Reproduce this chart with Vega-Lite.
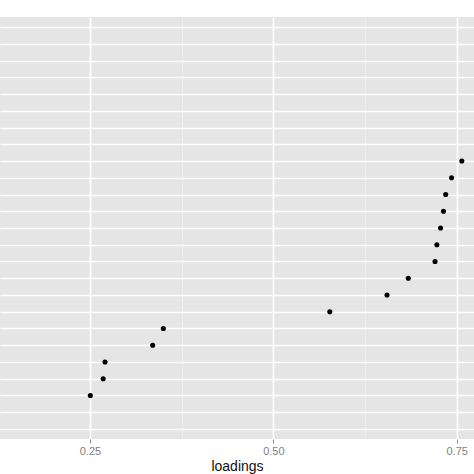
{
  "$schema": "https://vega.github.io/schema/vega-lite/v6.json",
  "width": 474,
  "height": 422,
  "autosize": "none",
  "padding": {"left": 0, "top": 17, "right": 0, "bottom": 35},
  "background": "white",
  "data": {
    "values": [
      {"item": "item09", "loadings": 0.757},
      {"item": "item10", "loadings": 0.743},
      {"item": "item11", "loadings": 0.735},
      {"item": "item12", "loadings": 0.732},
      {"item": "item13", "loadings": 0.728},
      {"item": "item14", "loadings": 0.723},
      {"item": "item15", "loadings": 0.7205},
      {"item": "item16", "loadings": 0.684},
      {"item": "item17", "loadings": 0.655},
      {"item": "item18", "loadings": 0.577},
      {"item": "item19", "loadings": 0.35},
      {"item": "item20", "loadings": 0.3355},
      {"item": "item21", "loadings": 0.2705},
      {"item": "item22", "loadings": 0.268},
      {"item": "item23", "loadings": 0.2505}
    ]
  },
  "encoding": {
    "y": {
      "field": "item",
      "type": "ordinal",
      "sort": null,
      "scale": {
        "type": "point",
        "padding": 0.6,
        "domain": [
          "item01", "item02", "item03", "item04", "item05",
          "item06", "item07", "item08", "item09", "item10",
          "item11", "item12", "item13", "item14", "item15",
          "item16", "item17", "item18", "item19", "item20",
          "item21", "item22", "item23", "item24", "item25"
        ]
      },
      "axis": {
        "grid": true,
        "gridColor": "white",
        "gridWidth": 1.4,
        "labels": false,
        "ticks": false,
        "domain": false,
        "title": null
      }
    }
  },
  "layer": [
    {
      "mark": {"type": "point", "opacity": 0},
      "encoding": {
        "x": {
          "field": "loadings",
          "type": "quantitative",
          "scale": {"domain": [0.1273, 0.7736], "nice": false, "zero": false},
          "axis": {
            "orient": "top",
            "values": [0.375, 0.625],
            "grid": true,
            "gridColor": "#f4f4f4",
            "gridWidth": 0.7,
            "labels": false,
            "ticks": false,
            "domain": false,
            "title": null
          }
        }
      }
    },
    {
      "mark": {"type": "point", "filled": true, "color": "black", "opacity": 1, "size": 26},
      "encoding": {
        "x": {
          "field": "loadings",
          "type": "quantitative",
          "title": "loadings",
          "scale": {"domain": [0.1273, 0.7736], "nice": false, "zero": false},
          "axis": {
            "orient": "bottom",
            "values": [0.25, 0.5, 0.75],
            "format": ".2f",
            "grid": true,
            "gridColor": "white",
            "gridWidth": 1.6,
            "domain": false,
            "tickColor": "#8a8a8a",
            "tickSize": 4,
            "labelColor": "#7f7f7f",
            "labelFontSize": 11,
            "labelPadding": 2,
            "titleFontSize": 14,
            "titleFontWeight": "normal",
            "titleColor": "#111111",
            "titlePadding": 3
          }
        }
      }
    }
  ],
  "resolve": {"axis": {"x": "independent"}},
  "config": {
    "font": "Liberation Sans",
    "view": {"fill": "#e5e5e5", "stroke": null}
  }
}
